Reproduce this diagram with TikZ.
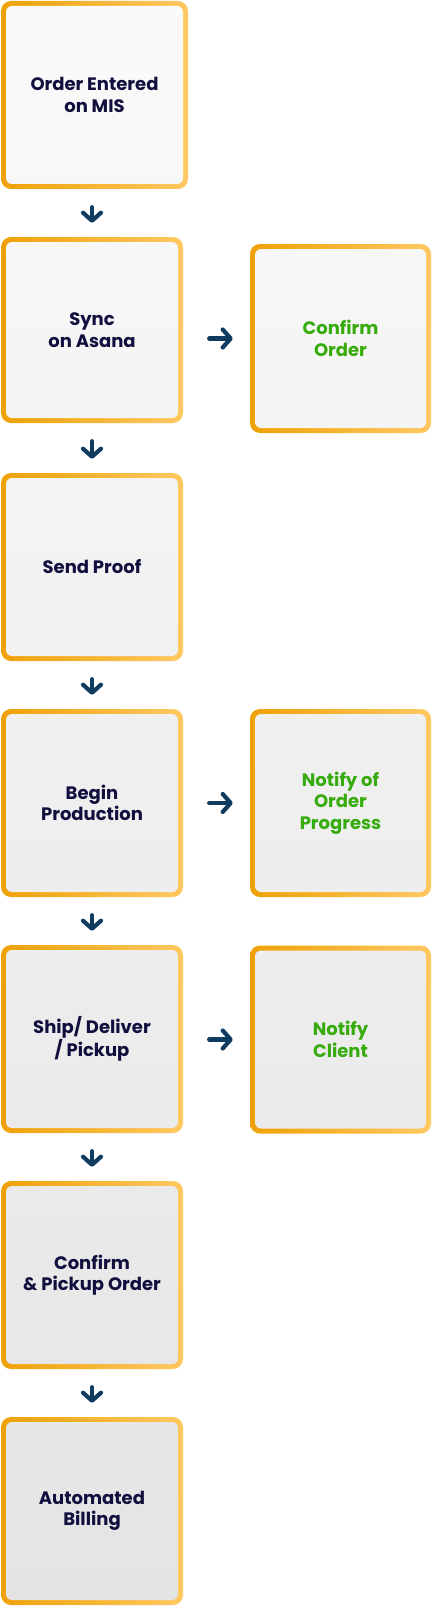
\documentclass[tikz,border=0pt]{standalone}
\usepackage{fontspec}
\setmainfont{Poppins}
\usetikzlibrary{arrows.meta}

\definecolor{ornL}{HTML}{EFA107}
\definecolor{ornR}{HTML}{FFC861}
\definecolor{bgTop}{HTML}{FAFAFA}
\definecolor{bgBot}{HTML}{E4E4E4}
\definecolor{navy}{HTML}{100F3E}
\definecolor{okgreen}{HTML}{36AB0C}
\definecolor{arrowc}{HTML}{0E3B5F}

\tikzset{
	procbox/.style 2 args={rectangle, rounded corners=10pt, minimum width=182pt, minimum height=188pt, inner sep=0pt,
		left color=ornL, right color=ornR, align=center, text=navy,
		font=\fontsize{18}{21.5}\selectfont\bfseries,
		path picture={\shade[top color=bgBot!#1!bgTop, bottom color=bgBot!#2!bgTop, rounded corners=6pt]
			([shift={(5pt,-5pt)}]path picture bounding box.north west) rectangle ([shift={(-5pt,5pt)}]path picture bounding box.south east);}},
	notebox/.style 2 args={procbox={#1}{#2}, text=okgreen, minimum width=181pt},
	flow/.style={draw=arrowc, line width=4.2pt, line cap=round, line join=round, -{Straight Barb[length=8pt,width=18pt,round]}}
}

\begin{document}
\begin{tikzpicture}[x=1pt, y=-1pt]
	\useasboundingbox (0,0) rectangle (432,1608);

	\node[procbox={0}{12}, minimum width=187pt] (order) at (94.5,95) {Order Entered\\on MIS};
	\node[procbox={15}{26}, minimum height=186pt] (sync) at (92,330) {Sync\\on Asana};
	\node[procbox={29}{41}] (proof) at (92,567) {Send Proof};
	\node[procbox={44}{56}] (production) at (92,803) {Begin\\Production};
	\node[procbox={59}{70}] (ship) at (92,1039) {Ship/ Deliver\\/ Pickup};
	\node[procbox={73}{85}] (pickup) at (92,1275) {Confirm\\\& Pickup Order};
	\node[procbox={88}{100}] (billing) at (92,1511) {Automated\\Billing};

	\node[notebox={15}{27}, minimum height=189pt] (confirm) at (340.5,338.5) {Confirm\\Order};
	\node[notebox={44}{56}] (progress) at (340.5,803) {Notify of\\Order\\Progress};
	\node[notebox={59}{70}] (client) at (340.5,1039.5) {Notify\\Client};

	\draw[flow, shorten <=18pt, shorten >=14pt] (order.south -| sync.north) -- (sync.north);
	\draw[flow, shorten <=18pt, shorten >=14pt] (sync.south) -- (proof.north);
	\draw[flow, shorten <=18pt, shorten >=14pt] (proof.south) -- (production.north);
	\draw[flow, shorten <=18pt, shorten >=14pt] (production.south) -- (ship.north);
	\draw[flow, shorten <=18pt, shorten >=14pt] (ship.south) -- (pickup.north);
	\draw[flow, shorten <=18pt, shorten >=14pt] (pickup.south) -- (billing.north);

	\draw[flow, shorten <=26pt, shorten >=17pt] (sync.east |- confirm.west) -- (confirm.west);
	\draw[flow, shorten <=26pt, shorten >=17pt] (production.east |- progress.west) -- (progress.west);
	\draw[flow, shorten <=26pt, shorten >=17pt] (ship.east |- client.west) -- (client.west);
\end{tikzpicture}
\end{document}
